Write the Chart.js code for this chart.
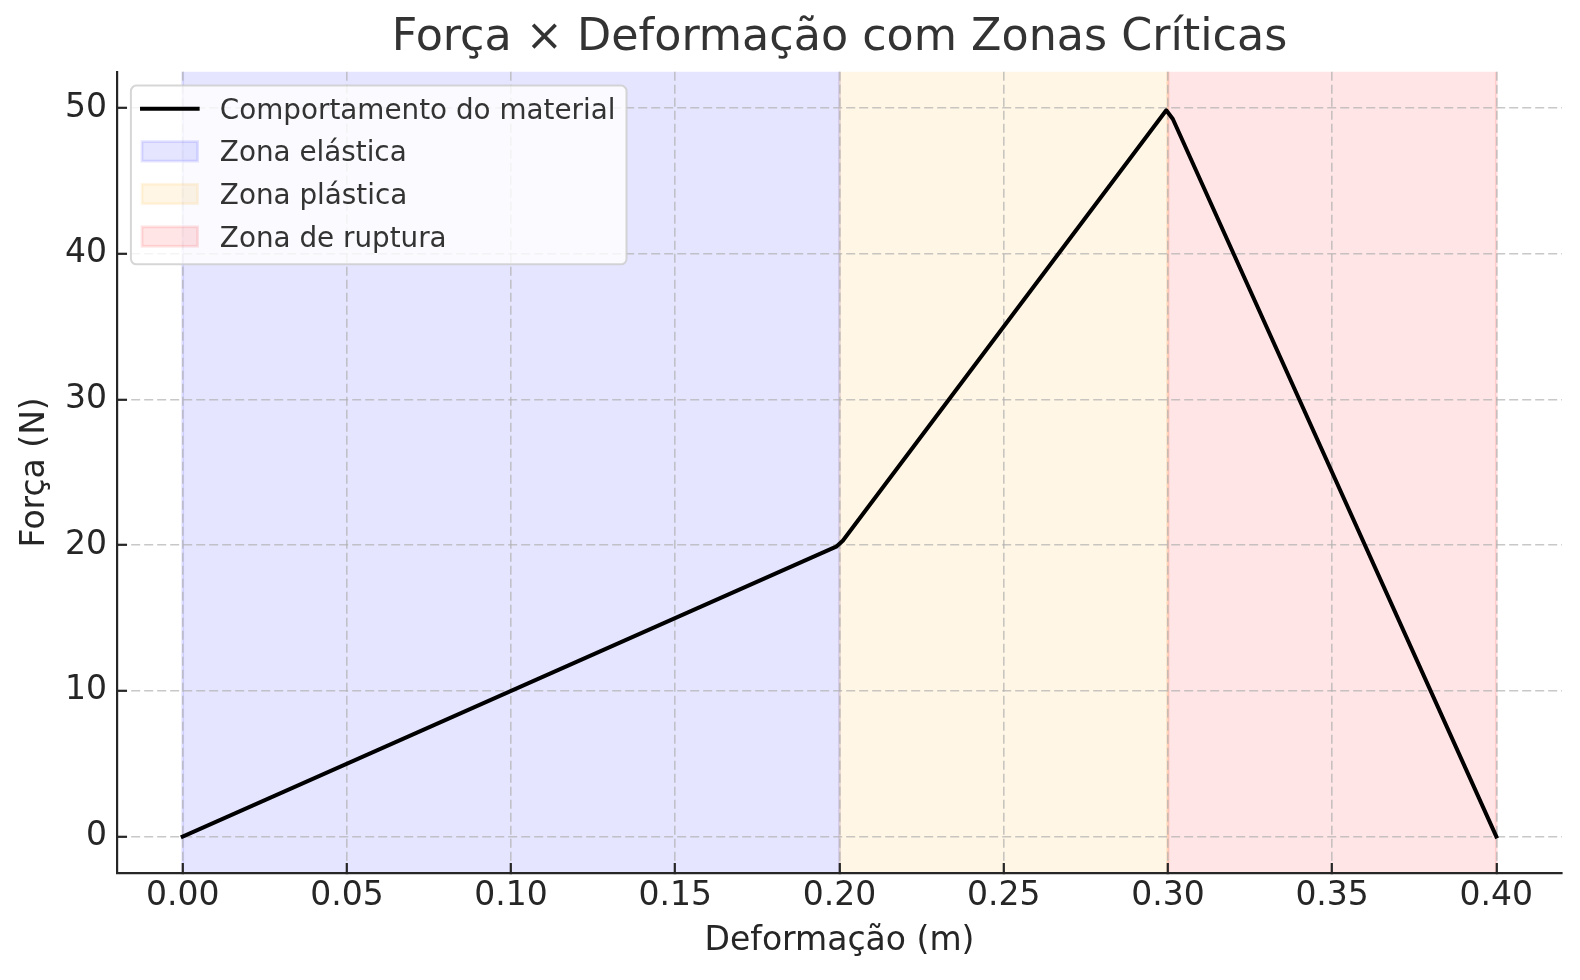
<!DOCTYPE html>
<html><head><meta charset="utf-8">
<script src="https://cdn.jsdelivr.net/npm/chart.js@4"></script>
<style>html,body{margin:0;padding:0;background:#fff;} #wrap{width:1580px;height:980px;position:relative;}</style>
</head><body><div id="wrap"><canvas id="c"></canvas></div>
<script>
// ---- data ----
const deformacao = [0, 0.199, 0.201, 0.2995, 0.3015, 0.40];
const forca = [0, 19.9, 20.3, 49.85, 49.25, 0];
const xTicks = [0, 0.05, 0.10, 0.15, 0.20, 0.25, 0.30, 0.35, 0.40];
const yTicks = [0, 10, 20, 30, 40, 50];
const zoneLabels = ['Zona elástica', 'Zona plástica', 'Zona de ruptura'];
const zoneStart = [0, 0.2, 0.3];
const zoneEnd = [0.2, 0.3, 0.4];
const lineLabel = 'Comportamento do material';
const chartTitle = 'Força × Deformação com Zonas Críticas';
const xTitle = 'Deformação (m)';
const yTitle = 'Força (N)';

// ---- styles ----
const zoneColors = ['rgba(0,0,255,0.1)', 'rgba(255,165,0,0.1)', 'rgba(255,0,0,0.1)'];
const FONT = 'DejaVu Sans';
const TEXT = '#333333';
const AXIS = '#262626';

const zonesPlugin = {
  id: 'zones',
  beforeDraw(chart) {
    const {ctx, chartArea: ca, scales: {x}} = chart;
    ctx.save();
    ctx.fillStyle = '#ffffff';
    ctx.fillRect(0, 0, chart.width, chart.height);
    ctx.beginPath();
    ctx.rect(ca.left, ca.top, ca.right - ca.left, ca.bottom - ca.top);
    ctx.clip();
    zoneStart.forEach((s, i) => {
      const x1 = x.getPixelForValue(s), x2 = x.getPixelForValue(zoneEnd[i]);
      ctx.fillStyle = zoneColors[i];
      ctx.fillRect(x1, ca.top - 5, x2 - x1, ca.bottom - ca.top + 10);
      ctx.strokeStyle = zoneColors[i];
      ctx.lineWidth = 2.8;
      ctx.strokeRect(x1, ca.top - 5, x2 - x1, ca.bottom - ca.top + 10);
    });
    ctx.restore();
  }
};

const legendPlugin = {
  id: 'mplLegend',
  afterDraw(chart) {
    const {ctx, chartArea: ca} = chart;
    const fs = 27.8;
    const labels = [lineLabel].concat(zoneLabels);
    ctx.save();
    ctx.font = fs + 'px "' + FONT + '"';
    const tw = Math.max(...labels.map(l => ctx.measureText(l).width));
    const bx = ca.left + 0.5 * fs, by = ca.top + 0.5 * fs;
    const pad = 0.4 * fs, hl = 2 * fs, htp = 0.8 * fs;
    const rowH = 28.7, gap = 0.5 * fs;
    const bw = pad + hl + htp + tw + pad;
    const bh = 2 * pad + labels.length * rowH + (labels.length - 1) * gap;
    const r = 0.2 * fs;
    ctx.beginPath();
    ctx.moveTo(bx + r, by);
    ctx.arcTo(bx + bw, by, bx + bw, by + bh, r);
    ctx.arcTo(bx + bw, by + bh, bx, by + bh, r);
    ctx.arcTo(bx, by + bh, bx, by, r);
    ctx.arcTo(bx, by, bx + bw, by, r);
    ctx.closePath();
    ctx.fillStyle = 'rgba(255,255,255,0.8)';
    ctx.fill();
    ctx.strokeStyle = 'rgba(204,204,204,0.8)';
    ctx.lineWidth = 2;
    ctx.stroke();
    const hx = bx + pad;
    labels.forEach((l, i) => {
      const cy = by + pad + i * (rowH + gap) + rowH / 2 - 2.3;
      if (i === 0) {
        const ds = chart.data.datasets[0];
        ctx.strokeStyle = ds.borderColor;
        ctx.lineWidth = ds.borderWidth;
        ctx.lineCap = 'square';
        ctx.beginPath();
        ctx.moveTo(hx, cy);
        ctx.lineTo(hx + hl, cy);
        ctx.stroke();
      } else {
        const ph = 0.7 * fs;
        ctx.fillStyle = zoneColors[i - 1];
        ctx.fillRect(hx, cy - ph / 2, hl, ph);
        ctx.strokeStyle = zoneColors[i - 1];
        ctx.lineWidth = 2.8;
        ctx.strokeRect(hx, cy - ph / 2, hl, ph);
      }
      ctx.fillStyle = TEXT;
      ctx.textAlign = 'left';
      ctx.textBaseline = 'alphabetic';
      ctx.fillText(l, hx + hl + htp, cy + 0.729 * fs / 2);
    });
    ctx.restore();
  }
};

const gridStyle = {
  color: 'rgba(176,176,176,0.7)', lineWidth: 1.6,
  tickLength: -10, tickColor: AXIS, tickWidth: 2.2
};

new Chart(document.getElementById('c'), {
  type: 'line',
  data: {
    datasets: [{
      label: lineLabel,
      data: deformacao.map((v, i) => ({x: v, y: forca[i]})),
      borderColor: '#000000',
      borderWidth: 4,
      pointRadius: 0,
      tension: 0,
      fill: false,
      borderJoinStyle: 'round',
      borderCapStyle: 'square'
    }]
  },
  options: {
    responsive: true,
    maintainAspectRatio: false,
    animation: false,
    devicePixelRatio: 1,
    layout: {padding: {left: 0, right: 18, top: 0, bottom: 0}},
    plugins: {
      legend: {display: false},
      tooltip: {enabled: false},
      title: {
        display: true, text: chartTitle, color: TEXT, fullSize: false,
        font: {family: FONT, size: 44.4, weight: 'normal'},
        padding: {top: 12, bottom: 6.4}
      }
    },
    scales: {
      x: {
        type: 'linear', min: -0.02, max: 0.42,
        afterBuildTicks: s => { s.ticks = xTicks.map(v => ({value: v})); },
        afterFit: s => { s.height = 107; },
        ticks: {
          font: {family: FONT, size: 33}, color: AXIS, padding: 13.2,
          maxRotation: 0, autoSkip: false,
          callback: v => Number(v).toFixed(2)
        },
        grid: gridStyle,
        border: {display: true, color: AXIS, width: 2.2, dash: [9, 4]},
        title: {
          display: true, text: xTitle, color: AXIS,
          font: {family: FONT, size: 33}, padding: {top: 0, bottom: 19}
        }
      },
      y: {
        type: 'linear', min: -2.5, max: 52.5,
        afterBuildTicks: s => { s.ticks = yTicks.map(v => ({value: v})); },
        afterFit: s => { s.width = 117; },
        ticks: {
          font: {family: FONT, size: 33}, color: AXIS, padding: 20,
          autoSkip: false,
          callback: v => String(v)
        },
        grid: gridStyle,
        border: {display: true, color: AXIS, width: 2.2, dash: [9, 4]},
        title: {
          display: true, text: yTitle, color: AXIS,
          font: {family: FONT, size: 33}, padding: {top: 16, bottom: 0}
        }
      }
    }
  },
  plugins: [zonesPlugin, legendPlugin]
});
</script>
</body></html>
